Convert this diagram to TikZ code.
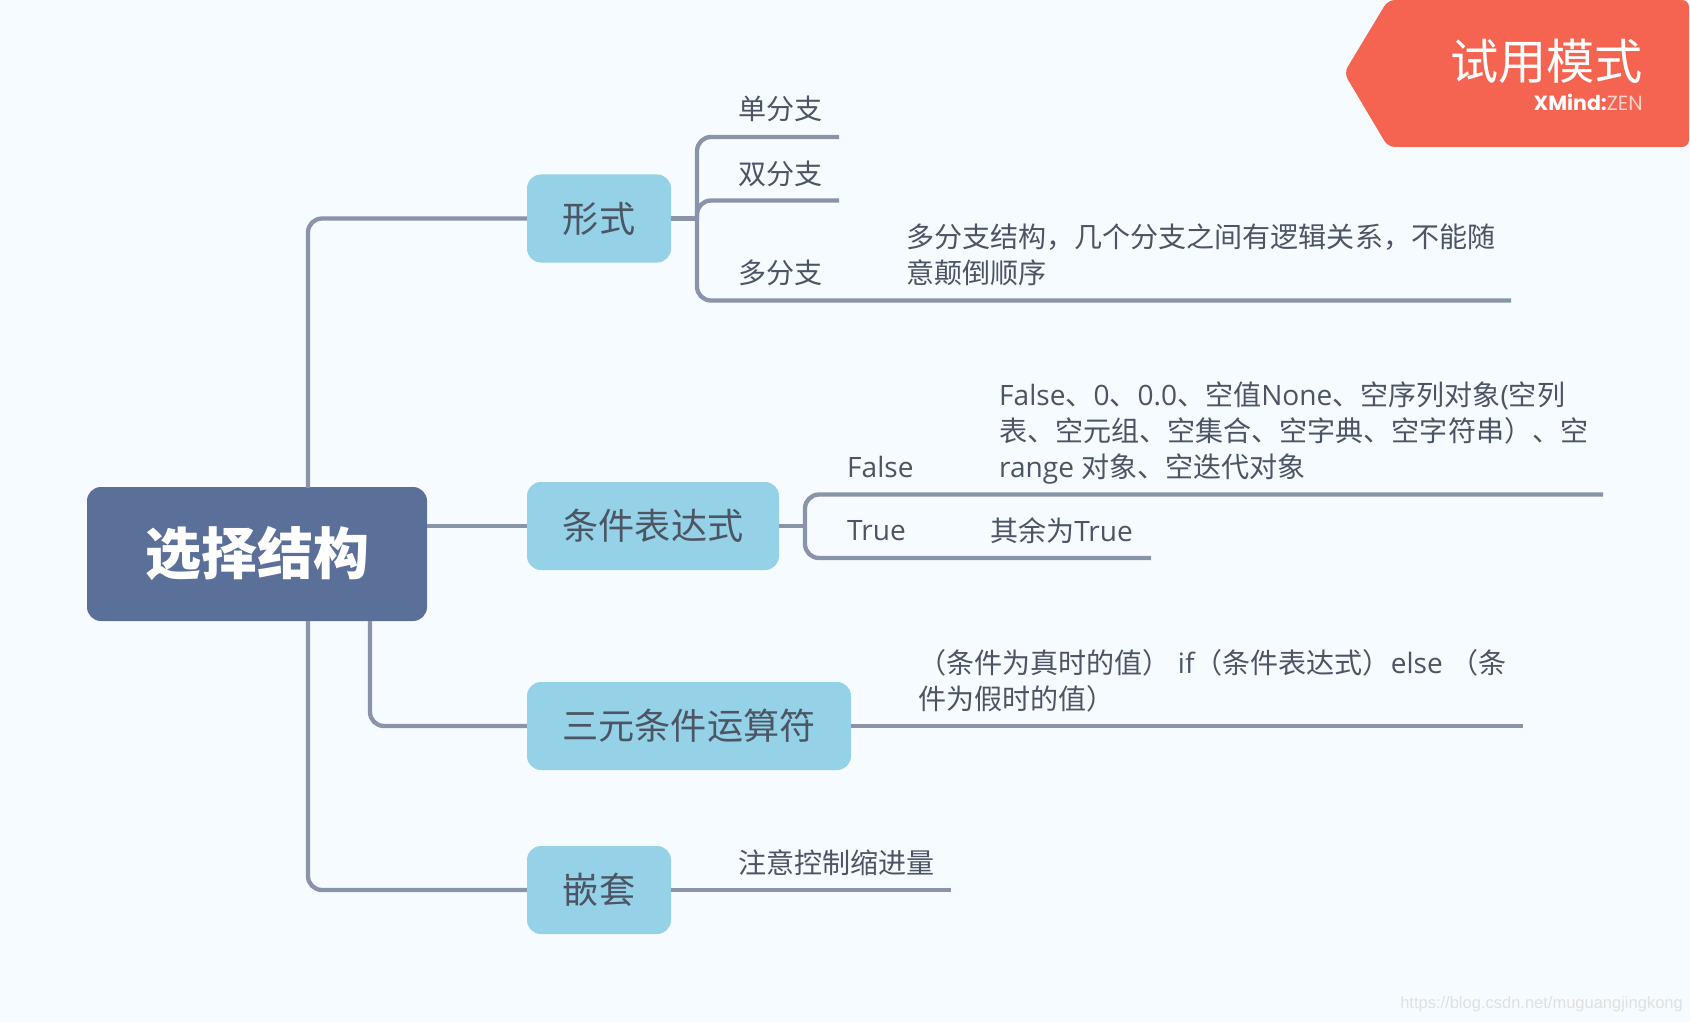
\documentclass[tikz,border=0pt]{standalone}
\usepackage{fontspec}
\setmainfont{Open Sans}
\newfontfamily\cjk{Noto Sans CJK SC}
\newfontfamily\badgefont{Poppins}
\newfontfamily\urlfont{Liberation Sans}
\definecolor{pagebg}{HTML}{F5FBFF}
\definecolor{rootblue}{HTML}{5A7099}
\definecolor{topicblue}{HTML}{95D1E7}
\definecolor{linegray}{HTML}{8994A9}
\definecolor{textgray}{HTML}{4B5563}
\definecolor{badgered}{HTML}{F46450}
\tikzset{
    rootbox/.style={rectangle, rounded corners=14pt, fill=rootblue, text=white, inner sep=0pt,
        minimum width=340pt, minimum height=134pt, font=\cjk\bfseries\fontsize{56}{60}\selectfont},
    topicbox/.style={rectangle, rounded corners=14pt, fill=topicblue, text=textgray, inner sep=0pt,
        minimum height=88pt, font=\cjk\fontsize{36.15}{40}\selectfont},
    leaftext/.style={anchor=west, align=left, inner sep=0pt, text=textgray,
        font=\fontsize{28.05}{36}\selectfont},
    conn/.style={draw=linegray, line width=4.3pt},
    fork/.style={conn, rounded corners=14pt}
}
\begin{document}
\begin{tikzpicture}[x=1pt, y=-1pt]
    \fill[pagebg] (0,0) rectangle (1690,1022);
    \useasboundingbox (0,0) rectangle (1690,1022);

    % trial badge
    \fill[badgered, rounded corners=7pt] (1388,0) -- (1689,0) -- (1689,147) -- (1388,147) -- (1344,73) -- cycle;
    \node[anchor=east, inner sep=0pt, text=white, font=\cjk\fontsize{48.2}{50}\selectfont] (trial) at (1643,61) {试用模式};
    \node[anchor=east, inner sep=0pt, text=white, font=\badgefont\fontsize{20.5}{22}\selectfont] (brand) at (1643,102.5) {\textbf{XMind:}{\color{white!70!badgered}ZEN}};

    % nodes
    \node[rootbox] (root) at (257,554) {选择结构};
    \node[topicbox, minimum width=144pt] (form) at (599,218.5) {形式};
    \node[topicbox, minimum width=252pt] (cond) at (653,526) {条件表达式};
    \node[topicbox, minimum width=324pt] (ternary) at (689,726) {三元条件运算符};
    \node[topicbox, minimum width=144pt] (nest) at (599,890) {嵌套};

    \node[leaftext] (single) at (738,109) {\cjk 单分支};
    \node[leaftext] (double) at (738,173.5) {\cjk 双分支};
    \node[leaftext] (multi) at (738,273) {\cjk 多分支};
    \node[leaftext] (multinote) at (906,255) {\cjk 多分支结构，几个分支之间有逻辑关系，不能随\\\cjk 意颠倒顺序};
    \node[leaftext] (false) at (847,467) {False};
    \node[leaftext] (true) at (847,531) {True};
    \node[leaftext] (falsenote) at (999,433) {False{\cjk 、}0{\cjk 、}0.0{\cjk 、空值}None{\cjk 、空序列对象}({\cjk 空列}\\{\cjk 表、空元组、空集合、空字典、空字符串）、空}\\range {\cjk 对象、空迭代对象}};
    \node[leaftext] (truenote) at (990,531) {{\cjk 其余为}True};
    \node[leaftext] (ternarynote) at (918,681) {{\cjk （条件为真时的值）} if{\cjk （条件表达式）}else {\cjk （条}\\{\cjk 件为假时的值）}};
    \node[leaftext] (nestnote) at (738,863) {\cjk 注意控制缩进量};

    \node[anchor=east, inner sep=0pt, text=black!12, font=\urlfont\fontsize{16.5}{18}\selectfont] (url) at (1683,1004) {https://blog.csdn.net/muguangjingkong};

    % line ends
    \coordinate (trunktop) at (308,488);
    \coordinate (trunkbot) at (308,621);
    \coordinate (ternarytop) at (370,621);
    \coordinate (formfork) at (697,218.5);
    \coordinate (singleend) at (839,137);
    \coordinate (doubleend) at (839,200.5);
    \coordinate (multiend) at (1511,300.5);
    \coordinate (condfork) at (805,526);
    \coordinate (falseend) at (1603,494.5);
    \coordinate (trueend) at (1151,558);
    \coordinate (ternaryend) at (1523,726);
    \coordinate (nestend) at (951,890);

    % connectors
    \draw[fork] (trunktop) |- (form.west);
    \draw[fork] (trunkbot) |- (nest.west);
    \draw[fork] (ternarytop) |- (ternary.west);
    \draw[conn] (root.east |- cond.west) -- (cond.west);
    \draw[conn] (form.east) -- (formfork);
    \draw[fork] (formfork) |- (singleend);
    \draw[fork] (formfork) |- (doubleend);
    \draw[fork] (formfork) |- (multiend);
    \draw[conn] (cond.east) -- (condfork);
    \draw[fork] (condfork) |- (falseend);
    \draw[fork] (condfork) |- (trueend);
    \draw[conn] (ternary.east) -- (ternaryend);
    \draw[conn] (nest.east) -- (nestend);
\end{tikzpicture}
\end{document}
